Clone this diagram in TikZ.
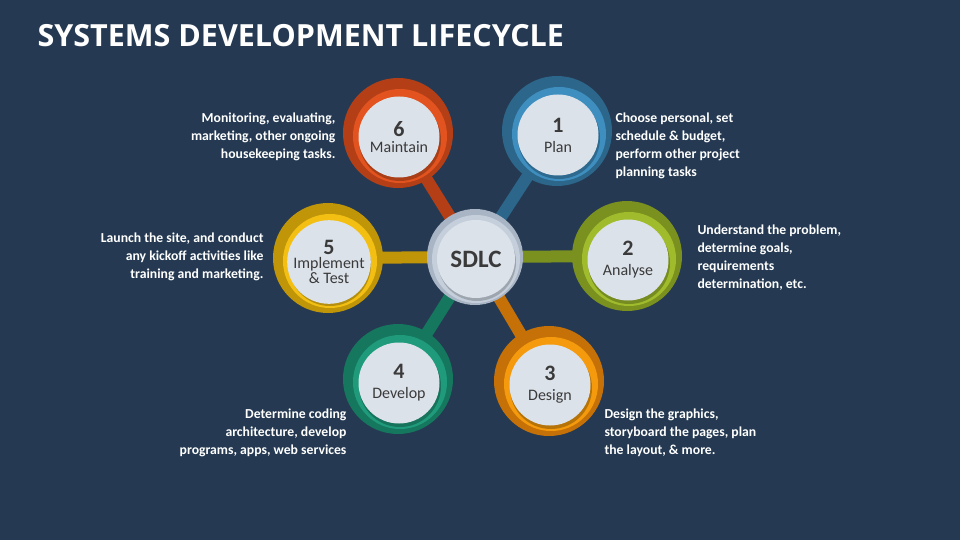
\documentclass[tikz,border=0pt]{standalone}
\usepackage{fontspec}
\usetikzlibrary{calc}
\setmainfont{Carlito}
\newfontfamily\titlefont{Open Sans}
\definecolor{bg}{HTML}{253A52}
\definecolor{faceC}{HTML}{DCE2EA}
\definecolor{txtC}{HTML}{3A3A3A}
\definecolor{oA}{HTML}{E2531F}\definecolor{oB}{HTML}{B43F17}
\definecolor{bA}{HTML}{3E8EBF}\definecolor{bB}{HTML}{2C668A}
\definecolor{gA}{HTML}{A0BC2C}\definecolor{gB}{HTML}{7A901F}
\definecolor{yA}{HTML}{F49A0C}\definecolor{yB}{HTML}{C57107}
\definecolor{tA}{HTML}{1F9B7B}\definecolor{tB}{HTML}{15775E}
\definecolor{kA}{HTML}{F2BF12}\definecolor{kB}{HTML}{C09608}
\definecolor{sA}{HTML}{C5CFDB}\definecolor{sB}{HTML}{A9B5C4}
\tikzset{
 conn/.style={line width=12pt},
 desc/.style={text=white,font=\bfseries\fontsize{13.7}{18}\selectfont},
}
\newcommand{\numf}{\bfseries\fontsize{22}{24}\selectfont}
\newcommand{\labf}{\fontsize{16}{19}\selectfont}
\newcommand{\stage}[6]{% name, x, y, colA, colB, content
 \fill[#5] (#2,#3) circle (55);
 \fill[#4] (#2+2,#3+3) circle (47);
 \fill[black,opacity=0.25] (#2+2,#3+7) circle (41);
 \node[circle,fill=faceC,minimum size=81pt,inner sep=0pt,align=center,text=txtC] (#1) at (#2+1,#3+4) {#6};
}
\begin{document}
\begin{tikzpicture}[x=1pt,y=-1pt]
\fill[bg] (0,0) rectangle (960,540);
\useasboundingbox (0,0) rectangle (960,540);
\node[anchor=west,text=white,font=\titlefont\bfseries\fontsize{30.5}{32}\selectfont] (title) at (34,36) {SYSTEMS DEVELOPMENT LIFECYCLE};
\coordinate (c) at (475,257);
\coordinate (p6) at (398,133);\coordinate (p1) at (557,131);
\coordinate (p2) at (627,256);\coordinate (p3) at (549,382);
\coordinate (p4) at (398,379);\coordinate (p5) at (328,258);
\draw[conn,oB] (c)--(p6);
\draw[conn,bB] (c)--(p1);
\draw[conn,gB] (c)--(p2);
\draw[conn,yB] (c)--(p3);
\draw[conn,tB] (c)--(p4);
\draw[conn,kB] (c)--(p5);
\stage{s6}{398}{133}{oA}{oB}{{\numf 6}\\[4pt]{\labf Maintain}}
\stage{s1}{557}{131}{bA}{bB}{{\numf 1}\\[8pt]{\labf Plan}}
\stage{s2}{627}{256}{gA}{gB}{{\numf 2}\\[8pt]{\labf Analyse}}
\stage{s3}{549}{381}{yA}{yB}{{\numf 3}\\[8pt]{\labf Design}}
\stage{s4}{398}{379}{tA}{tB}{{\numf 4}\\[8pt]{\labf Develop}}
\stage{s5}{328}{258}{kA}{kB}{{\numf 5}\\[2pt]{\labf Implement}\\[1pt]{\labf \& Test}}
\fill[sB] (c) circle (48);
\fill[sA] ($(c)+(1,2)$) circle (44);
\fill[black,opacity=0.2] ($(c)+(2,5)$) circle (39);
\node[circle,fill=faceC,minimum size=78pt,inner sep=0pt,text=txtC,font=\bfseries\fontsize{25}{28}\selectfont] (sdlc) at ($(c)+(1,2)$) {SDLC};
\node[desc,anchor=north east,align=right] (d6) at (339,109) {Monitoring, evaluating,\\marketing, other ongoing\\housekeeping tasks.};
\node[desc,anchor=north west,align=left] (d1) at (612,109) {Choose personal, set\\schedule \& budget,\\perform other project\\planning tasks};
\node[desc,anchor=north west,align=left] (d2) at (694,221) {Understand the problem,\\determine goals,\\requirements\\determination, etc.};
\node[desc,anchor=north west,align=left] (d3) at (601,405) {Design the graphics,\\storyboard the pages, plan\\the layout, \& more.};
\node[desc,anchor=north east,align=right] (d4) at (350,405) {Determine coding\\architecture, develop\\programs, apps, web services};
\node[desc,anchor=north east,align=right] (d5) at (267,229) {Launch the site, and conduct\\any kickoff activities like\\training and marketing.};
\end{tikzpicture}
\end{document}
